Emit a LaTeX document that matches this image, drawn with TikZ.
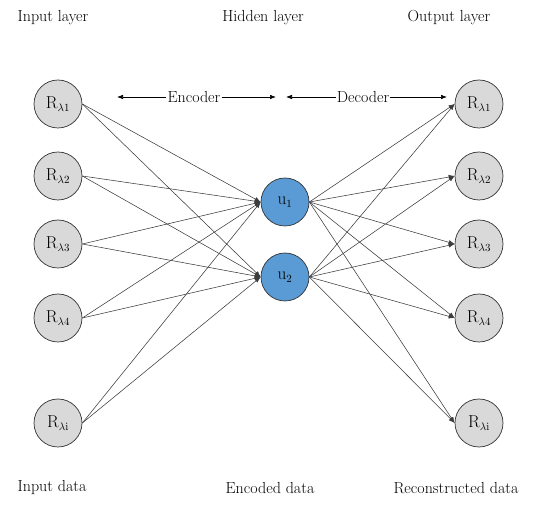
\documentclass[tikz,border=0pt]{standalone}
\usepackage{tikz}
\usetikzlibrary{
  arrows.meta,
  positioning,
}
\definecolor{nodegray}{RGB}{217,217,217}
\definecolor{hidblue}{RGB}{91,155,213}
\definecolor{edgegray}{RGB}{60,60,60}
\tikzset{
  >={Latex[length=6pt,width=4.5pt]},
  neuron/.style={circle, draw=black!80, line width=0.7pt, minimum size=48pt,
    inner sep=0pt, fill=nodegray, font=\fontsize{16}{18}\selectfont},
  hidden/.style={neuron, fill=hidblue},
  link/.style={->, draw=edgegray, line width=0.55pt},
  caption/.style={font=\fontsize{16}{18}\selectfont, inner sep=1pt},
}

\begin{document}
\begin{tikzpicture}[x=1pt, y=-1pt]
      \useasboundingbox (0,0) rectangle (550,505);
      % layer titles
      \node[caption] (tin) at (53,18) {Input layer};
      \node[caption] (thid) at (263,18) {Hidden layer};
      \node[caption] (tout) at (449,18) {Output layer};
      \node[caption] (bin) at (52,488) {Input data};
      \node[caption] (bhid) at (270,488) {Encoded data};
      \node[caption] (bout) at (456,488) {Reconstructed data};
      % input and output layers
      \foreach \n/\y in {1/104, 2/176, 3/244, 4/318, i/423}
      {
        \node[neuron] (in\n) at (58,\y) {$\mathrm{R}_{\lambda\mathrm{\n}}$};
        \node[neuron] (out\n) at (479,\y) {$\mathrm{R}_{\lambda\mathrm{\n}}$};
      }
      % hidden layer
      \node[hidden] (h1) at (285,202) {$\mathrm{u}_1$};
      \node[hidden] (h2) at (285,277) {$\mathrm{u}_2$};
      \foreach \a in {1,2,3,4,i}
      {
        \foreach \b in {1,2}
        {
          \draw[link] (in\a.east) -- (h\b.west);
          \draw[link] (h\b.east) -- (out\a.west);
        }
      }
      % encoder / decoder
      \node[caption] (enc) at (194,97) {Encoder};
      \node[caption] (dec) at (363,97) {Decoder};
      \coordinate (encl) at (117,97);
      \coordinate (encr) at (276,97);
      \coordinate (decl) at (286,97);
      \coordinate (decr) at (447,97);
      \draw[->, line width=0.6pt] (enc) -- (encl);
      \draw[->, line width=0.6pt] (enc) -- (encr);
      \draw[->, line width=0.6pt] (dec) -- (decl);
      \draw[->, line width=0.6pt] (dec) -- (decr);
    \end{tikzpicture}
\end{document}
